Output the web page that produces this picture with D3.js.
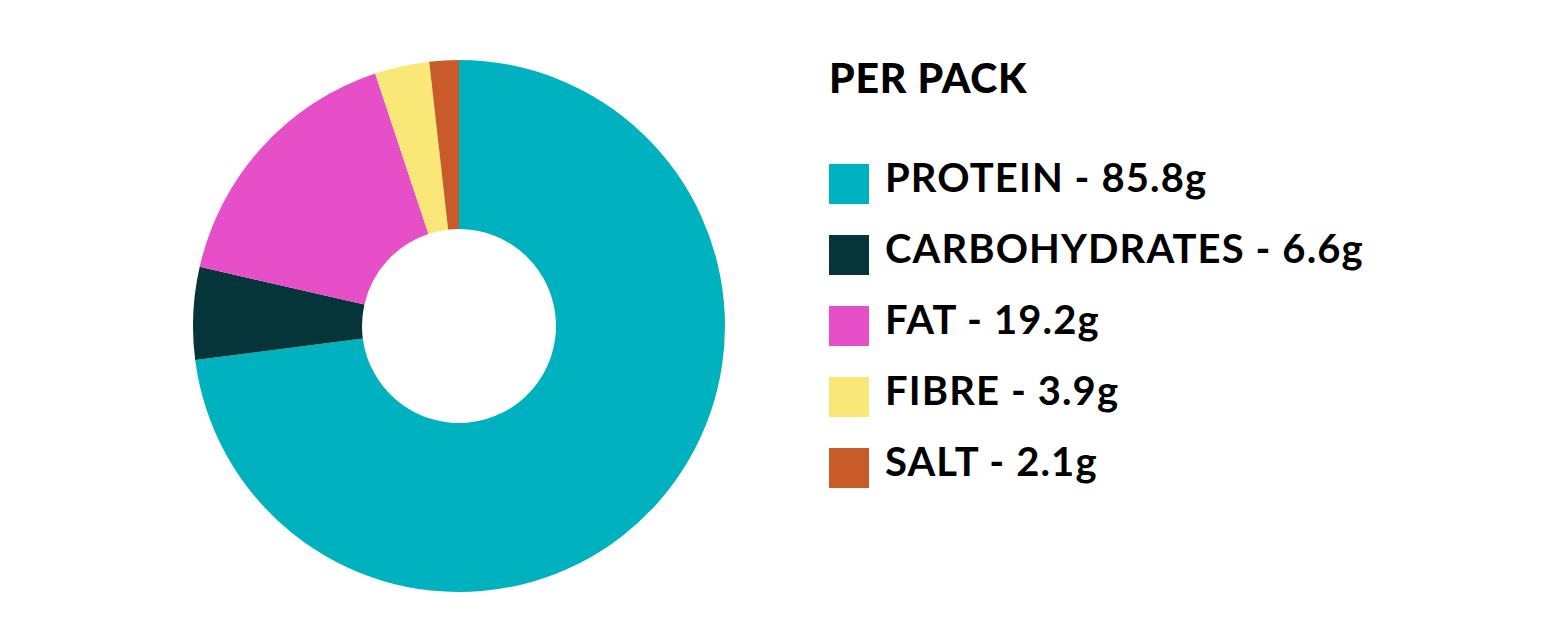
<!DOCTYPE html>
<html>
<head>
<meta charset="utf-8">
<script src="https://cdn.jsdelivr.net/npm/d3@7"></script>
<style>
  body { margin: 0; background: #fff; }
  svg { display: block; }
</style>
</head>
<body>
<div id="chart"></div>
<script>
// nutrition per pack
var labels = ["PROTEIN", "CARBOHYDRATES", "FAT", "FIBRE", "SALT"];
var grams = [85.8, 6.6, 19.2, 3.9, 2.1];
var colours = ["#00b2bf", "#053439", "#e74fc9", "#f9e877", "#c85b29"];
var title = "PER PACK";

var width = 1558, height = 642;

var svg = d3.select("#chart").append("svg")
    .attr("width", width)
    .attr("height", height);

var rows = labels.map(function (l, i) {
    return { label: l, value: grams[i], colour: colours[i] };
});

// donut
var pie = d3.pie()
    .sort(null)
    .value(function (d) { return d.value; });

var arc = d3.arc()
    .innerRadius(97)
    .outerRadius(266);

var g = svg.append("g")
    .attr("transform", "translate(459,326)");

g.selectAll("path")
    .data(pie(rows))
    .enter().append("path")
    .attr("d", arc)
    .attr("fill", function (d) { return d.data.colour; });

// legend
var legend = svg.append("g")
    .attr("transform", "translate(829,0)");

legend.append("text")
    .attr("x", 0)
    .attr("y", 93)
    .attr("font-family", "Lato")
    .attr("font-weight", 900)
    .attr("font-size", 41)
    .attr("letter-spacing", 0.7)
    .attr("fill", "#000")
    .text(title);

var y = d3.scaleBand()
    .domain(labels)
    .range([164, 164 + 71 * labels.length])
    .paddingInner(0);

var item = legend.selectAll("g.item")
    .data(rows)
    .enter().append("g")
    .attr("class", "item")
    .attr("transform", function (d) { return "translate(0," + y(d.label) + ")"; });

item.append("rect")
    .attr("width", 40)
    .attr("height", 40)
    .attr("fill", function (d) { return d.colour; });

item.append("text")
    .attr("x", 56)
    .attr("y", 28)
    .attr("font-family", "Lato")
    .attr("font-weight", 700)
    .attr("font-size", 40)
    .attr("letter-spacing", 1.1)
    .attr("fill", "#000")
    .text(function (d) { return d.label + " - " + d.value + "g"; });
</script>
</body>
</html>
